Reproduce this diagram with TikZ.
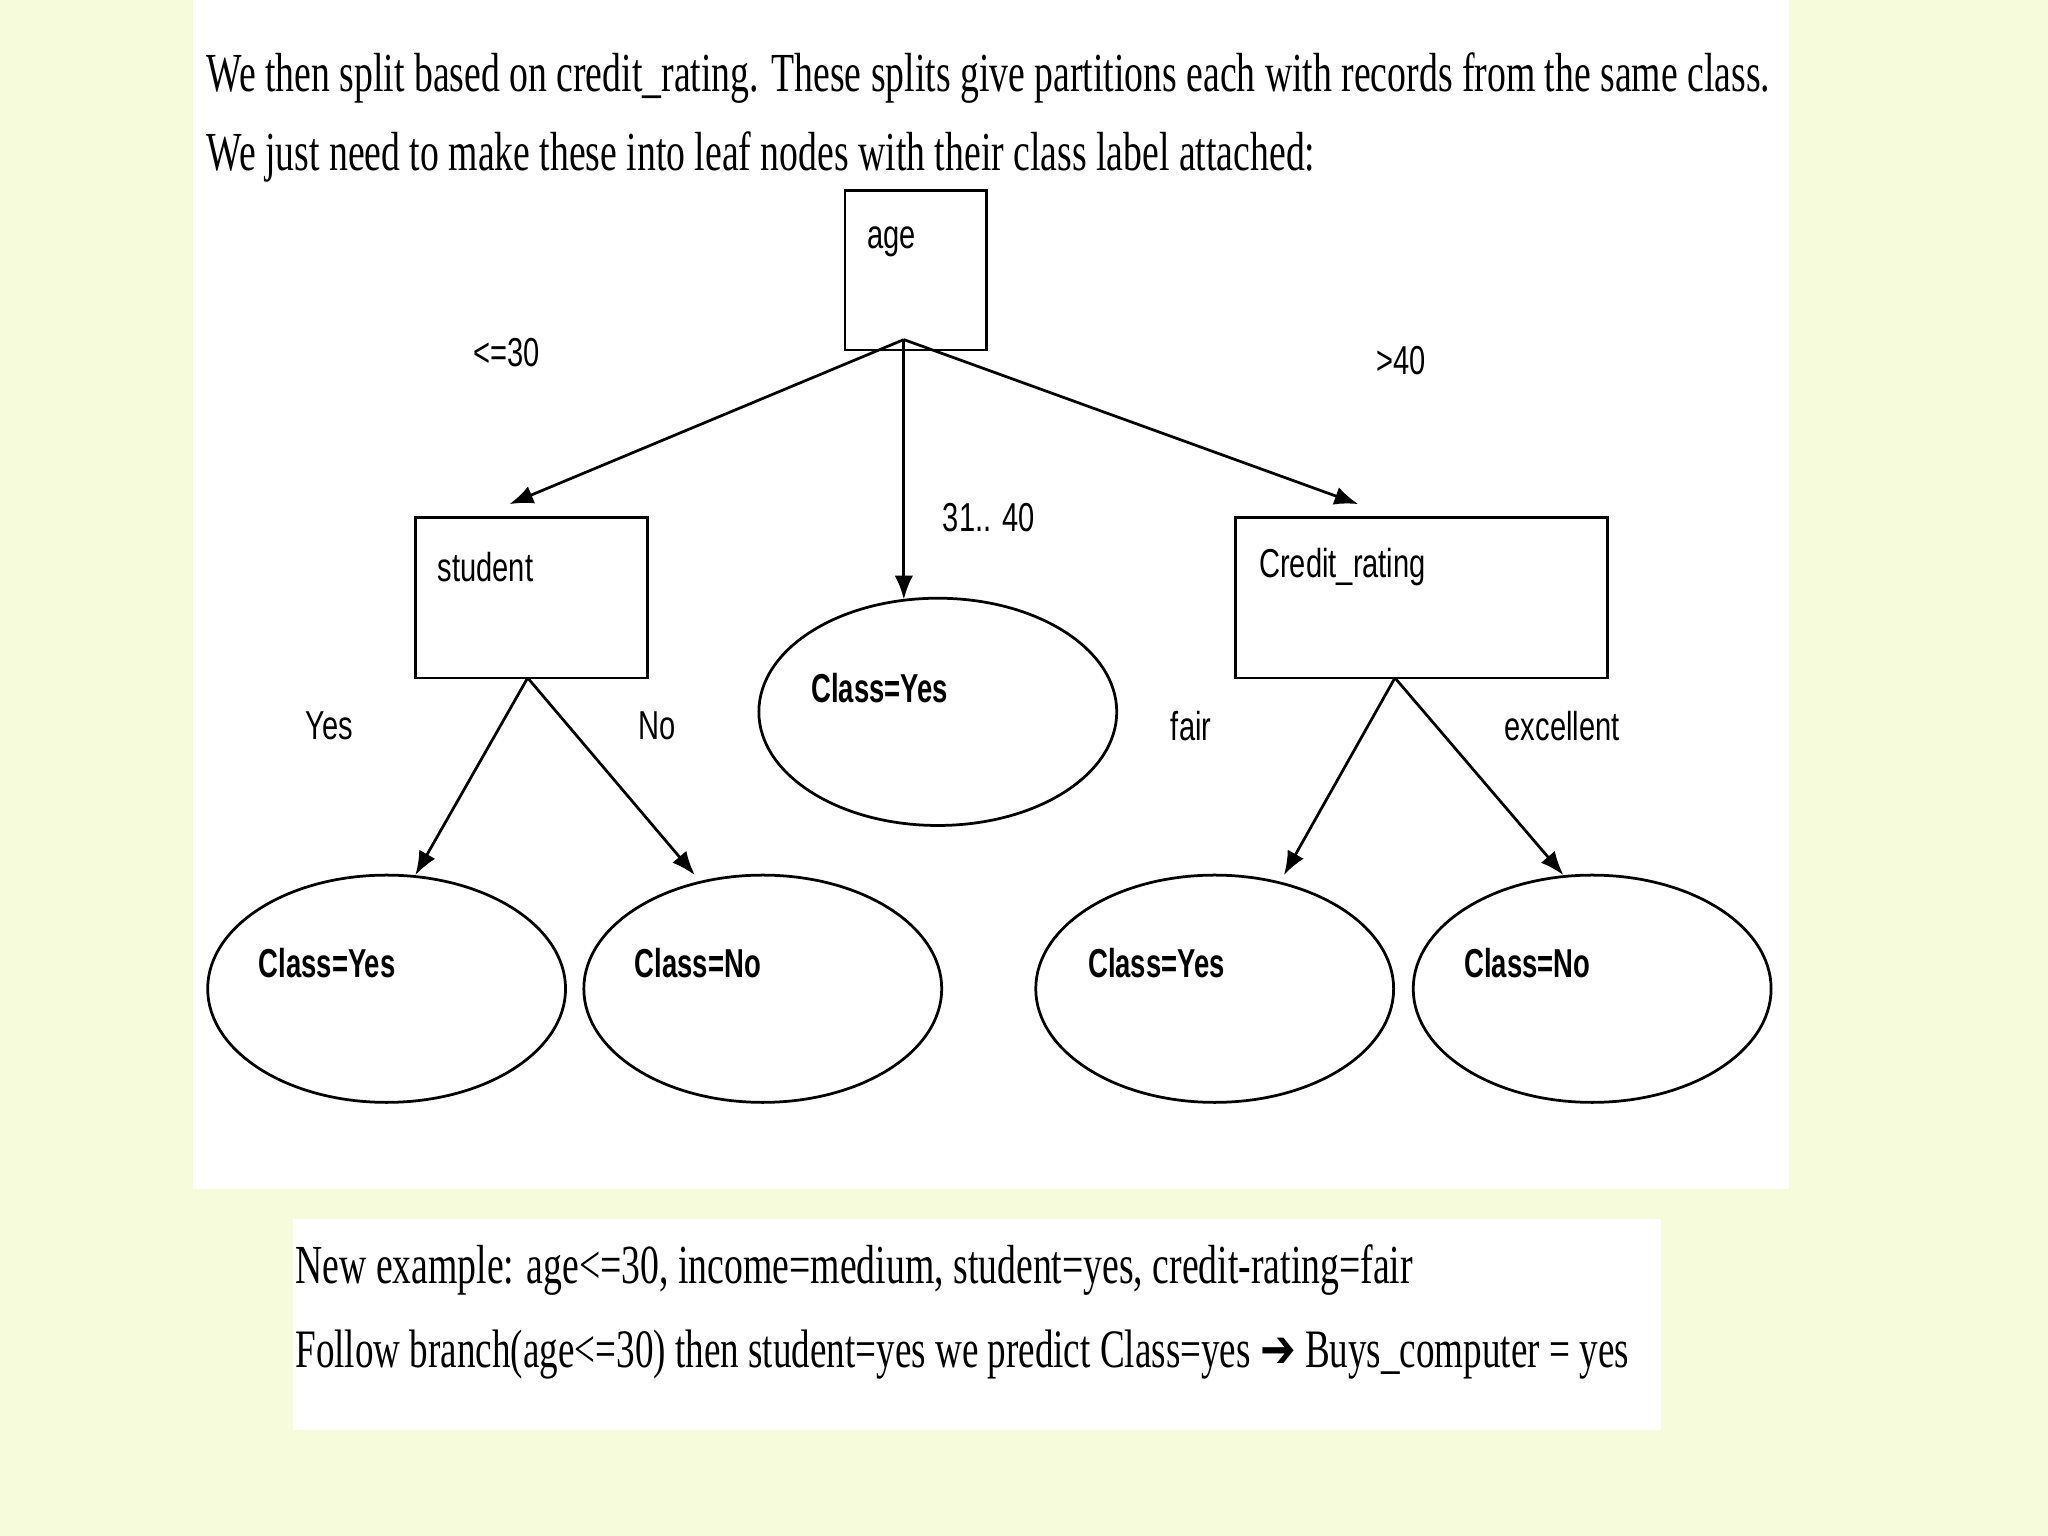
\documentclass[tikz,border=0pt]{standalone}
\usepackage{fontspec}
\setmainfont{Liberation Serif}
\newfontfamily\nserif[FakeStretch=0.685]{Liberation Serif}
\newfontfamily\nsans[FakeStretch=0.72]{Liberation Sans}
\newfontfamily\nsansb[FakeStretch=0.68]{Liberation Sans}
\newfontfamily\dejavu[FakeStretch=0.8]{DejaVu Sans}
\usetikzlibrary{arrows.meta}
\definecolor{bgc}{HTML}{F6FBDC}
\begin{document}
\begin{tikzpicture}[x=0.05cm,y=-0.05cm,
  lab/.style={font=\nsans\fontsize{44}{44}\selectfont,inner sep=0pt},
  cls/.style={font=\nsansb\bfseries\fontsize{44}{44}\selectfont,inner sep=0pt,anchor=west},
  txt/.style={font=\nserif\fontsize{60}{60}\selectfont,inner sep=0pt,anchor=west},
  arr/.style={-{Latex[length=26pt,width=20pt]},line width=3pt}]
\fill[bgc] (0,0) rectangle (1568,1176);
\useasboundingbox (0,0) rectangle (1568,1176);
\fill[white] (148,0) rectangle (1370,910);
\fill[white] (224,933) rectangle (1272,1095);
\node[txt] (t1) at (158,60) {We then split based on credit\_rating. These splits give partitions each with records from the same class.};
\node[txt] (t2) at (158,120) {We just need to make these into leaf nodes with their class label attached:};
% boxes
\draw[line width=3pt] (647,146) rectangle (755,268);
\draw[line width=3pt] (318,396) rectangle (496,519);
\draw[line width=3pt] (946,396) rectangle (1231,519);
\node[lab,anchor=west] (age) at (664,185) {age};
\node[lab,anchor=west] (stu) at (335,434) {student};
\node[lab,anchor=west] (cr) at (964,434) {Credit\_rating};
% ellipses
\foreach \n/\cx/\cy in {e0/718/545,e1/296/757,e2/584/757,e3/930/757,e4/1219/757}
  \draw[line width=3pt] (\cx,\cy) ellipse [x radius=137, y radius=87];
\node[cls] (c0) at (621,527) {Class=Yes};
\node[cls] (c1) at (198,737) {Class=Yes};
\node[cls] (c2) at (486,737) {Class=No};
\node[cls] (c3) at (833,737) {Class=Yes};
\node[cls] (c4) at (1121,737) {Class=No};
% arrow points
\coordinate (a0) at (692,260);
\coordinate (s0) at (404,519);
\coordinate (r0) at (1068,519);
\coordinate (p1) at (390,386);
\coordinate (p2) at (692,459);
\coordinate (p3) at (1040,386);
\coordinate (q1) at (318,670);
\coordinate (q2) at (532,670);
\coordinate (q3) at (983,670);
\coordinate (q4) at (1197,670);
\draw[arr] (a0) -- (p1);
\draw[arr] (a0) -- (p2);
\draw[arr] (a0) -- (p3);
\draw[arr] (s0) -- (q1);
\draw[arr] (s0) -- (q2);
\draw[arr] (r0) -- (q3);
\draw[arr] (r0) -- (q4);
\node[lab] (l1) at (388,270) {<=30};
\node[lab] (l2) at (1073,276) {>40};
\node[lab] (l3) at (757,396) {31.. 40};
\node[lab] (l4) at (252,556) {Yes};
\node[lab] (l5) at (503,556) {No};
\node[lab] (l6) at (912,556) {fair};
\node[lab] (l7) at (1196,556) {excellent};
\node[txt] (b1) at (226,972) {New example: age<=30, income=medium, student=yes, credit-rating=fair};
\node[txt,font=\nserif\fontsize{59}{59}\selectfont] (b2) at (226,1037) {Follow branch(age<=30) then student=yes we predict Class=yes {\dejavu\bfseries\fontsize{58}{58}\selectfont ➔} Buys\_computer = yes};
\end{tikzpicture}
\end{document}
